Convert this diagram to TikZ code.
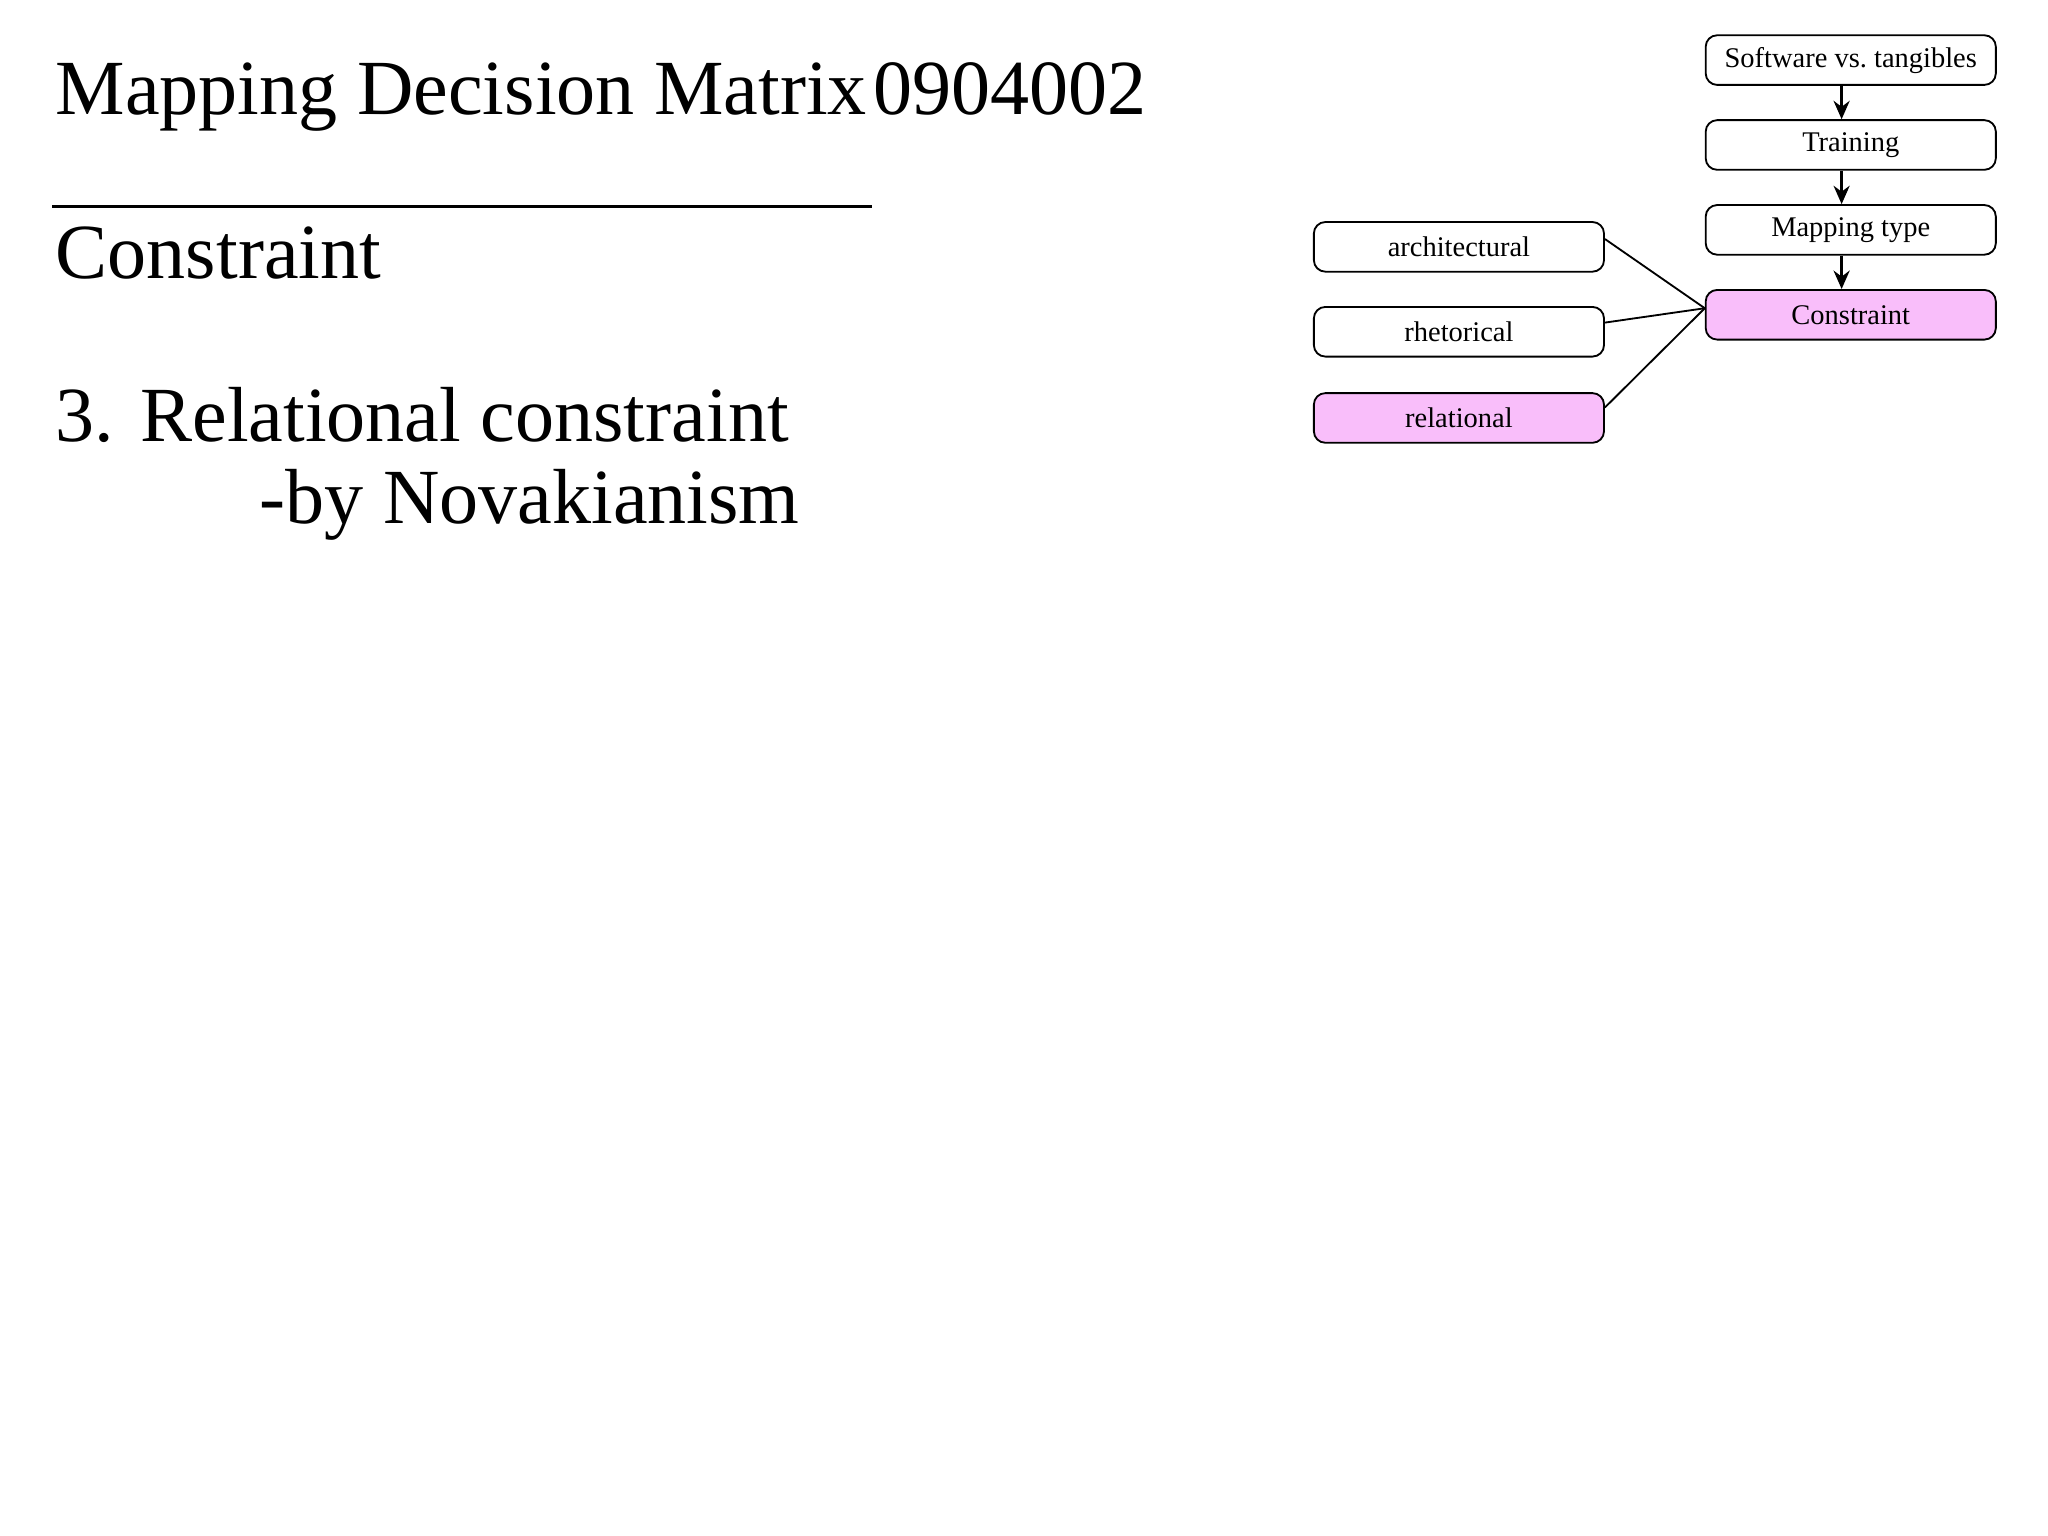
\documentclass[tikz,border=0pt]{standalone}
\usepackage{fontspec}
\setmainfont{Liberation Serif}
\usetikzlibrary{positioning,arrows.meta}
\definecolor{pinkfill}{RGB}{249,190,250}
\tikzset{
    stepbox/.style={
        draw=black,
        rounded corners=2.5pt,
        minimum width=2.22cm,
        minimum height=0.38cm,
        inner sep=0pt,
        font=\fontsize{6.2pt}{7pt}\selectfont
    },
    marked/.style={fill=pinkfill},
    big text/.style={anchor=base west, inner sep=0pt, font=\fontsize{17pt}{20pt}\selectfont},
    every edge/.style={draw, semithick, -{Stealth[length=4pt,width=3.5pt]}},
}
\begin{document}
\begin{tikzpicture}[x=0.01cm,y=-0.01cm]
    \useasboundingbox (0,0) rectangle (1568,1176);

    % slide text
    \node[big text] (title) at (42,88) {Mapping Decision Matrix};
    \node[big text] (code) at (668,88) {0904002};
    \draw[semithick] (40,158) coordinate (rulea) -- (668,158) coordinate (ruleb);
    \node[big text] (head) at (42,213) {Constraint};
    \node[big text] (item) at (42,338) {3. Relational constraint};
    \node[big text] (by) at (198,401) {-by Novakianism};

    % decision chain
    \node[stepbox] (soft) at (1417,46) {Software vs.\ tangibles};
    \node[stepbox] (train) at (1417,111) {Training};
    \node[stepbox] (map) at (1417,176) {Mapping type};
    \node[stepbox,marked] (cons) at (1417,241) {Constraint};

    \node[stepbox] (arch) at (1117,189) {architectural};
    \node[stepbox] (rhet) at (1117,254) {rhetorical};
    \node[stepbox,marked] (rel) at (1117,320) {relational};

    \draw ([xshift=-0.07cm]soft.south) edge ([xshift=-0.07cm]train.north);
    \draw ([xshift=-0.07cm]train.south) edge ([xshift=-0.07cm]map.north);
    \draw ([xshift=-0.07cm]map.south) edge ([xshift=-0.07cm]cons.north);

    \draw[thin] ([yshift=0.06cm]arch.east) -- ([yshift=0.05cm]cons.west);
    \draw[thin] ([yshift=0.07cm]rhet.east) -- ([yshift=0.05cm]cons.west);
    \draw[thin] ([yshift=0.08cm]rel.east) -- ([yshift=0.05cm]cons.west);
\end{tikzpicture}
\end{document}
